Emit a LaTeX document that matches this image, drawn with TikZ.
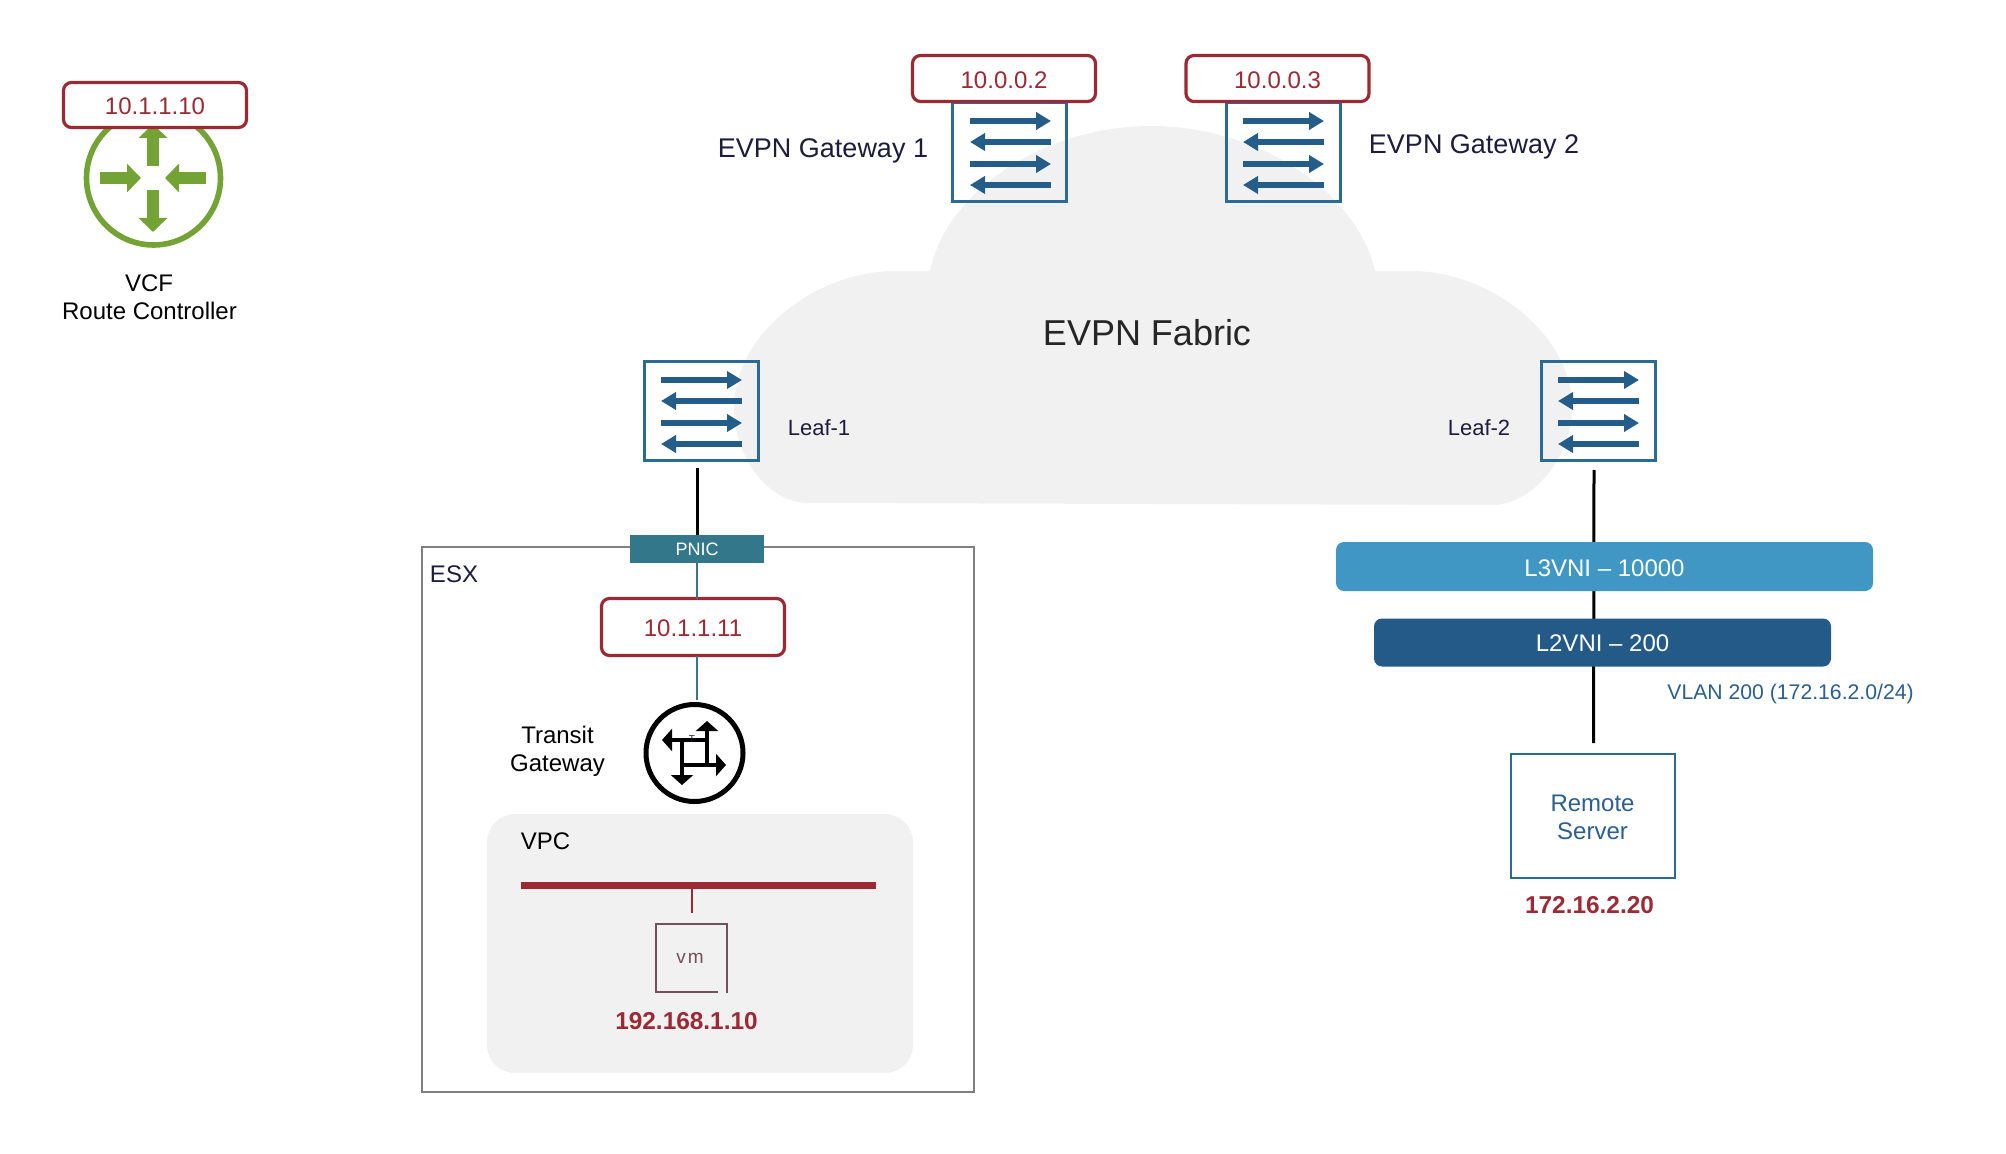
\documentclass[tikz,border=0pt]{standalone}
\usepackage{fontspec}
\setmainfont{Liberation Sans}
\usetikzlibrary{arrows.meta}
\definecolor{cred}{HTML}{9B2A35}
\definecolor{cteal}{HTML}{33788A}
\definecolor{cframe}{HTML}{2A6B96}
\definecolor{carrow}{HTML}{245C8A}
\definecolor{cgreen}{HTML}{72A334}
\definecolor{cgray}{HTML}{F1F1F1}
\definecolor{cnavy}{HTML}{1C1C3C}
\definecolor{cl3}{HTML}{4097C3}
\definecolor{cl2}{HTML}{235A88}
\definecolor{cvm}{HTML}{75505A}
\definecolor{cvlan}{HTML}{2A5F8F}
\newcommand{\lowertext}[2]{\raisebox{-#1}[0.72em][0pt]{#2}}
\tikzset{
  x=0.5pt,y=-0.5pt,
  every node/.style={inner sep=0pt,outer sep=0pt},
  iplabel/.style={draw=cred,fill=white,line width=1.6pt,rounded corners=4pt,minimum width=91.5pt,
    text=cred,font=\fontsize{12}{14}\selectfont},
  switchbox/.style={draw=cframe,line width=1.5pt,minimum width=57pt,minimum height=49.5pt},
  txt/.style={anchor=base,font=\fontsize{12}{14}\selectfont},
  boldip/.style={anchor=base,text=cred,font=\fontsize{12.2}{15}\selectfont\bfseries},
  swarrow/.style={draw=carrow,line width=2.9pt,-{Triangle[length=7.5pt,width=8.5pt]}},
  greenarrow/.style={draw=cgreen,line width=6.4pt,-{Triangle[length=7pt,width=14pt]}},
  blackarrow/.style={draw=black,line width=2.1pt,-{Triangle[length=5pt,width=11pt]}},
  wire/.style={draw=black,line width=1.5pt},
  tealwire/.style={draw=cteal,line width=1pt},
  vnibar/.style={rounded corners=4pt,text=white,font=\fontsize{12}{14}\selectfont},
  switchicon/.pic={
    \draw[swarrow] (-40,-41) -- (41,-41);
    \draw[swarrow] (41,-20) -- (-40,-20);
    \draw[swarrow] (-40,2) -- (41,2);
    \draw[swarrow] (41,23) -- (-40,23);
  }
}
\begin{document}
\begin{tikzpicture}
\useasboundingbox (0,0) rectangle (2006,1154);
% cloud
\fill[cgray] (930,271) .. controls (945,195) and (1040,126) .. (1151,126)
  .. controls (1262,126) and (1358,195) .. (1375,271) -- (1411,271)
  .. controls (1491,271) and (1572,335) .. (1572,407)
  .. controls (1572,460) and (1530,505) .. (1493,505) -- (808,503)
  .. controls (770,503) and (734,460) .. (734,407)
  .. controls (734,335) and (815,271) .. (895,271) -- cycle;
\node[anchor=base,text=black!85,font=\fontsize{18}{20}\selectfont] (fabric) at (1147,346) {EVPN Fabric};

% route controller
\node[draw=cgreen,line width=2.8pt,circle,minimum size=67pt] (rc) at (153.5,178) {};
\draw[greenarrow] (100,178) -- (141,178);
\draw[greenarrow] (206,178) -- (165,178);
\draw[greenarrow] (153,190) -- (153,232);
\draw[greenarrow] (153,166) -- (153,124);
\node[iplabel,minimum height=22.5pt] (rcip) at (155,105) {\lowertext{.3pt}{10.1.1.10}};
\node[txt] (rct1) at (149,292) {VCF};
\node[txt] (rct2) at (149.5,319.5) {Route Controller};

% gateways
\node[switchbox] (gw1) at (1009.5,152) {};
\pic at (1010,162) {switchicon};
\node[switchbox] (gw2) at (1283,152) {};
\pic at (1283,162) {switchicon};
\node[iplabel,minimum height=23pt] (gw1ip) at (1004,78.5) {\lowertext{.8pt}{10.0.0.2}};
\node[iplabel,minimum height=23pt] (gw2ip) at (1277.5,78.5) {\lowertext{.8pt}{10.0.0.3}};
\node[anchor=base,text=cnavy,font=\fontsize{13.5}{15}\selectfont] (gw1t) at (823,158) {EVPN Gateway 1};
\node[anchor=base,text=cnavy,font=\fontsize{13.5}{15}\selectfont] (gw2t) at (1474,154) {EVPN Gateway 2};

% leaves
\node[switchbox] (leaf1) at (701.5,411.5) {};
\pic at (701,421) {switchicon};
\node[switchbox] (leaf2) at (1598,411.5) {};
\pic at (1598,421) {switchicon};
\node[anchor=base,text=cnavy,font=\fontsize{11}{12}\selectfont] (l1t) at (819,436) {Leaf-1};
\node[anchor=base,text=cnavy,font=\fontsize{11}{12}\selectfont] (l2t) at (1479,436) {Leaf-2};

% ESX
\node[draw=black!50,line width=1pt,minimum width=276pt,minimum height=272.5pt] (esx) at (698,819.5) {};
\node[txt,text=cnavy] (esxt) at (454,582) {ESX};
\coordinate (l1end) at (697.5,468);
\node[fill=cteal,text=white,minimum width=67pt,minimum height=14pt,font=\fontsize{9}{10}\selectfont] (pnic) at (697,549) {\lowertext{.2pt}{PNIC}};
\draw[wire] (l1end) -- (pnic.north -| l1end);
\node[iplabel,minimum height=28.5pt] (tep) at (693,627) {\lowertext{.5pt}{10.1.1.11}};
\coordinate (tgwtop) at (697,700);
\draw[tealwire] (pnic.south -| tgwtop) -- (tep.north -| tgwtop);
\draw[tealwire] (tep.south -| tgwtop) -- (tgwtop);

% transit gateway
\node[draw=black,line width=2.5pt,circle,minimum size=48.5pt] (tgw) at (694.5,753) {};
\draw[blackarrow] (707,740) -- (662,740);
\draw[blackarrow] (707,765) -- (707,721);
\draw[blackarrow] (682,765) -- (726,765);
\draw[blackarrow] (682,740) -- (682,785);
\node[text=cnavy,font=\fontsize{5}{5}\selectfont] (cursor) at (692,739) {T};
\node[txt] (tgt1) at (557.5,743) {Transit};
\node[txt] (tgt2) at (557.5,771) {Gateway};

% VPC
\node[fill=cgray,rounded corners=14pt,minimum width=213pt,minimum height=129.5pt] (vpc) at (700,943.5) {};
\node[txt] (vpct) at (545.5,849) {VPC};
\coordinate (busl) at (521,885.5);
\coordinate (busr) at (876,885.5);
\draw[cred,line width=3.6pt] (busl) -- (busr);
\node[text=cvm,font=\fontsize{9.5}{11}\selectfont] (vm) at (690,958) {v\kern1pt m};
\coordinate (stubtop) at (692,885.5);
\coordinate (stubend) at (692,913);
\draw[cred,line width=1pt] (stubtop) -- (stubend);
\draw[cvm,line width=1pt] (718,992) -- (655.5,992) -- (655.5,924) -- (727,924) -- (727,993);
\node[boldip] (vmip) at (686.5,1029) {192.168.1.10};

% right side
\coordinate (l2a) at (1594,470);
\coordinate (l2b) at (1593.5,743);
\draw[wire] (l2a) -- (l2b);
\node[vnibar,fill=cl3,minimum width=268.5pt,minimum height=24.5pt] (l3) at (1604.5,566.5) {\lowertext{.5pt}{L3VNI – 10000}};
\node[vnibar,fill=cl2,minimum width=228.5pt,minimum height=24pt] (l2) at (1602.5,642.5) {\lowertext{.1pt}{L2VNI – 200}};
\node[anchor=base,text=cvlan,font=\fontsize{10.6}{13}\selectfont] (vlan) at (1790.5,699) {VLAN 200 (172.16.2.0/24)};
\node[draw=cframe,line width=1pt,minimum width=82pt,minimum height=62pt] (srv) at (1592.5,815.5) {};
\node[txt,text=cvlan] (srvt1) at (1592.5,811) {Remote};
\node[txt,text=cvlan] (srvt2) at (1592.5,839) {Server};
\node[boldip] (srvip) at (1589.5,913.5) {172.16.2.20};
\end{tikzpicture}
\end{document}
